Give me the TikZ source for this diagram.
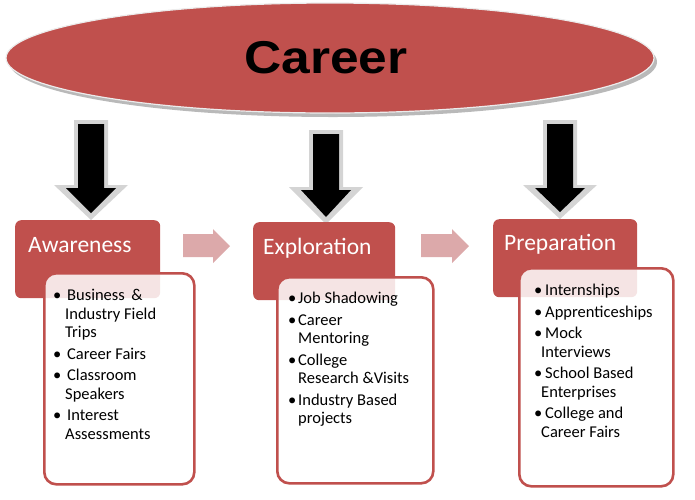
\documentclass[tikz,border=0pt]{standalone}
\usepackage{fontspec}
\setmainfont{Carlito}
\newfontfamily\careerfont[FakeStretch=1.12]{Liberation Sans}
\usetikzlibrary{shapes.geometric}
\definecolor{offred}{HTML}{C0504D}
\definecolor{pinkarrow}{HTML}{DCA9AA}
\definecolor{arrowglow}{HTML}{D4D4D4}
\newcommand{\bitem}[2]{\makebox[#1pt][l]{\textbullet}#2}
\newcommand{\bcont}[2]{\hspace*{#1pt}#2}
\tikzset{
  titlebox/.style={fill=offred, rounded corners=6pt},
  listbox/.style={fill=white, fill opacity=0.85, draw=offred, line width=2.6pt, rounded corners=12pt},
  titletext/.style={text=white, font=\fontsize{23.5}{26}\selectfont, anchor=base west, inner sep=0pt},
  listtext/.style={text=black, font=\fontsize{16.5}{18.5}\selectfont, align=left, anchor=north west, inner sep=0pt},
  glow/.style={fill=arrowglow},
  blackarrow/.style={fill=black},
  sidearrow/.style={fill=pinkarrow}
}
\begin{document}
\begin{tikzpicture}[x=1pt,y=-1pt]
\useasboundingbox (0,0) rectangle (695,499);
% Career ellipse
\fill[gray!55] (333,62) ellipse [x radius=324, y radius=55];
\node[ellipse, minimum width=648pt, minimum height=110pt, fill=offred, draw=white!85!gray, line width=1.2pt, inner sep=0pt] (career) at (330,58) {};
\node[font=\careerfont\bfseries\fontsize{46}{50}\selectfont, anchor=base] (careertxt) at (326,73) {Career};

% down arrows (glow then black)
\foreach \cx/\top/\hy/\tip/\gtip in {91/124/188/213/220, 326/134/190/217/224, 560/124/188/212/219}{
  \fill[glow] (\cx-17,\top-4) -- (\cx+17,\top-4) -- (\cx+17,\hy-3) -- (\cx+37,\hy-3) -- (\cx,\gtip) -- (\cx-37,\hy-3) -- (\cx-17,\hy-3) -- cycle;
  \fill[blackarrow] (\cx-13,\top) -- (\cx+13,\top) -- (\cx+13,\hy) -- (\cx+25,\hy) -- (\cx,\tip) -- (\cx-25,\hy) -- (\cx-13,\hy) -- cycle;
}

% Awareness
\node[titlebox, minimum width=145pt, minimum height=78pt, anchor=north west, inner sep=0pt] (aw) at (15,220) {};
\node[titletext] (awt) at (28,252) {Awareness};
\node[listbox, minimum width=150pt, minimum height=211pt, anchor=north west, inner sep=0pt] (awl) at (43,272) {};
\node[listtext] (awtxt) at (53,289) {\bitem{14}{Business \,\&}\\ \bcont{12}{Industry Field}\\ \bcont{12}{Trips}\\[3pt] \bitem{14}{Career Fairs}\\[3pt] \bitem{14}{Classroom}\\ \bcont{12}{Speakers}\\[3pt] \bitem{14}{Interest}\\ \bcont{12}{Assessments}};

% Exploration
\node[titlebox, minimum width=142pt, minimum height=78pt, anchor=north west, inner sep=0pt] (ex) at (253,222) {};
\node[titletext] (ext) at (263,254) {Exploration};
\node[listbox, minimum width=156pt, minimum height=206pt, anchor=north west, inner sep=0pt] (exl) at (276,276) {};
\node[listtext] (extxt) at (288,292) {\bitem{10}{Job Shadowing}\\[3pt] \bitem{10}{Career}\\ \bcont{10}{Mentoring}\\[3pt] \bitem{10}{College}\\ \bcont{10}{Research \&Visits}\\[3pt] \bitem{10}{Industry Based}\\ \bcont{10}{projects}};

% Preparation
\node[titlebox, minimum width=144pt, minimum height=78pt, anchor=north west, inner sep=0pt] (pr) at (493,219) {};
\node[titletext] (prt) at (504,250) {Preparation};
\node[listbox, minimum width=154pt, minimum height=218pt, anchor=north west, inner sep=0pt] (prl) at (518,267) {};
\node[listtext] (prtxt) at (534,284) {\bitem{11}{Internships}\\[3pt] \bitem{11}{Apprenticeships}\\[3pt] \bitem{11}{Mock}\\ \bcont{7}{Interviews}\\[3pt] \bitem{11}{School Based}\\ \bcont{7}{Enterprises}\\[3pt] \bitem{11}{College and}\\ \bcont{7}{Career Fairs}};

% side arrows
\fill[sidearrow] (183,234) -- (213,234) -- (213,229) -- (230,246) -- (213,263) -- (213,257) -- (183,257) -- cycle;
\fill[sidearrow] (421,234) -- (452,234) -- (452,229) -- (469,246) -- (452,263) -- (452,257) -- (421,257) -- cycle;
\end{tikzpicture}
\end{document}
